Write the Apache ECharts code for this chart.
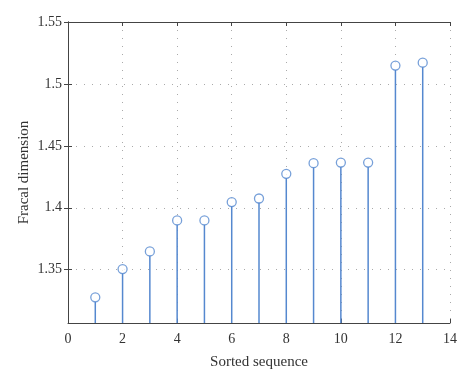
<!DOCTYPE html>
<html>
<head>
<meta charset="utf-8">
<script src="https://cdn.jsdelivr.net/npm/echarts@6/dist/echarts.min.js"></script>
<style>html,body{margin:0;padding:0;background:#fff}#c{width:474px;height:388px}</style>
</head>
<body>
<div id="c"></div>
<script>
var xValues = [1,2,3,4,5,6,7,8,9,10,11,12,13];
var yValues = [1.3277,1.3505,1.3648,1.3898,1.3898,1.4046,1.4075,1.4274,1.436,1.4365,1.4365,1.5148,1.5172];
var yTicks = [1.35,1.4,1.45,1.5,1.55];
var yMin = 1.307, yMax = 1.55;
var xMin = 0, xMax = 14, xStep = 2;

var font = 'Liberation Serif, Times New Roman, serif';
var stemColor = '#5588cf';
var axisColor = '#444';
var data = xValues.map(function(x,i){return [x, yValues[i]];});

var chart = echarts.init(document.getElementById('c'), null, {renderer:'canvas'});
chart.setOption({
  animation:false,
  backgroundColor:'#fff',
  grid:{left:68,right:24,top:22,bottom:65,containLabel:false},
  xAxis:[{
    type:'value',min:xMin,max:xMax,interval:xStep,
    name:'Sorted sequence',nameLocation:'middle',nameGap:32,
    nameTextStyle:{fontFamily:font,fontSize:15,color:'#333'},
    axisLine:{show:true,lineStyle:{color:axisColor,width:1}},
    axisTick:{show:true,inside:true,length:4,lineStyle:{color:axisColor}},
    axisLabel:{fontFamily:font,fontSize:14,color:'#333',margin:9},
    splitLine:{show:true,lineStyle:{color:'#aaa',type:[1,7],width:1}}
  },{
    type:'value',position:'top',min:xMin,max:xMax,interval:xStep,
    axisLine:{show:true,lineStyle:{color:axisColor,width:1}},
    axisTick:{show:true,inside:true,length:4,lineStyle:{color:axisColor}},
    axisLabel:{show:false},splitLine:{show:false}
  }],
  yAxis:[{
    type:'value',min:yMin,max:yMax,
    name:'Fracal dimension',nameLocation:'middle',nameGap:36,nameRotate:90,nameMoveOverlap:false,
    nameTextStyle:{fontFamily:font,fontSize:15,color:'#333'},
    axisLine:{show:true,lineStyle:{color:axisColor,width:1}},
    axisTick:{show:true,inside:true,length:4,customValues:yTicks,lineStyle:{color:axisColor}},
    axisLabel:{fontFamily:font,fontSize:14,color:'#333',margin:6,customValues:yTicks,
      formatter:function(v){return String(+v.toFixed(2));}},
    splitLine:{show:true,lineStyle:{color:'#aaa',type:[1,7],width:1}}
  },{
    type:'value',position:'right',min:yMin,max:yMax,
    axisLine:{show:true,lineStyle:{color:axisColor,width:1}},
    axisTick:{show:true,inside:true,length:4,customValues:yTicks,lineStyle:{color:axisColor}},
    axisLabel:{show:false,customValues:yTicks},splitLine:{show:false}
  }],
  series:[{
    type:'custom',
    xAxisIndex:0,yAxisIndex:0,
    data:data,
    renderItem:function(params,api){
      var p1 = api.coord([api.value(0), yMin]);
      var p2 = api.coord([api.value(0), api.value(1)]);
      return {type:'line',shape:{x1:p1[0],y1:p1[1],x2:p2[0],y2:p2[1]+4},
        style:{stroke:stemColor,lineWidth:1.5}};
    },
    z:2
  },{
    type:'scatter',xAxisIndex:0,yAxisIndex:0,data:data,
    symbol:'circle',symbolSize:9,
    itemStyle:{color:'#fff',borderColor:stemColor,borderWidth:1.3},
    z:3
  }]
});
</script>
</body>
</html>
